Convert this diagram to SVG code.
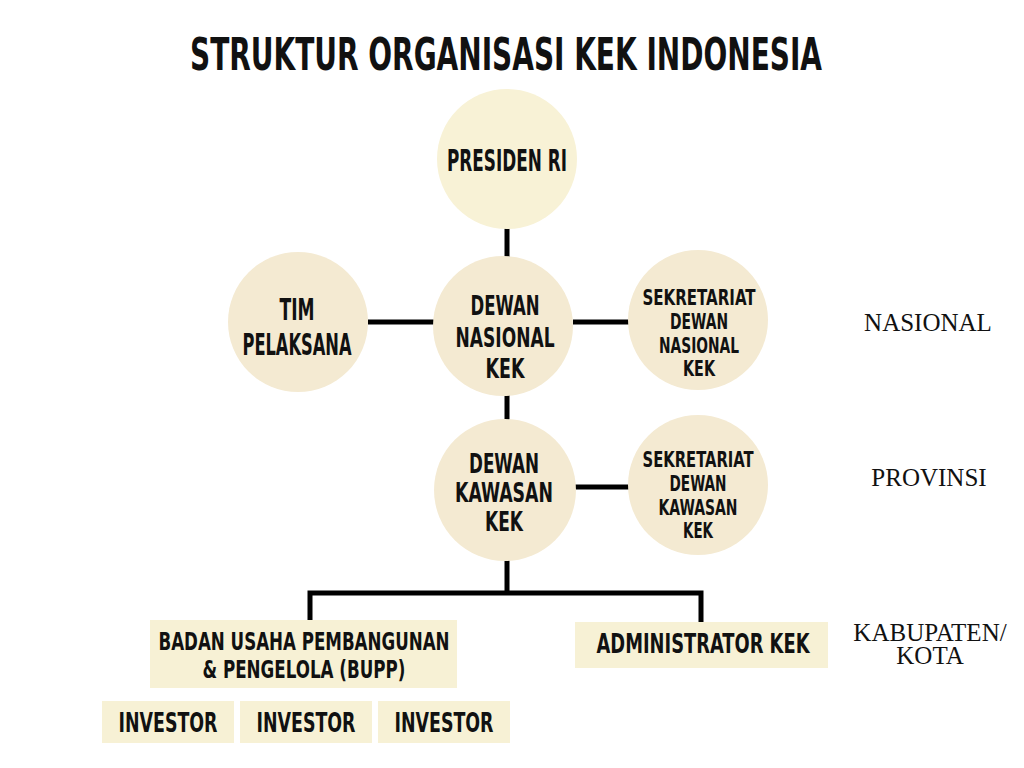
<svg xmlns="http://www.w3.org/2000/svg" width="1024" height="768" viewBox="0 0 1024 768">
<style>
.t{font-family:"Liberation Sans Narrow","DejaVu Sans Condensed","Liberation Sans",sans-serif;font-weight:bold;fill:#111;text-anchor:middle}
.lv{font-family:"Liberation Serif","Times New Roman",serif;font-size:25px;fill:#111;text-anchor:middle}
.c1{fill:#F8F2D6}
.c2{fill:#F4EAD2}
.bx{fill:#F7F1D5}
.ln{stroke:#000;stroke-width:5;fill:none}
</style>
<rect width="1024" height="768" fill="#fff"/>
<text class="t" x="506" y="70" font-size="45" textLength="632" lengthAdjust="spacingAndGlyphs">STRUKTUR ORGANISASI KEK INDONESIA</text>
<g id="connectors">
<line class="ln" x1="507" y1="228" x2="507" y2="258"/>
<line class="ln" x1="368" y1="322" x2="434" y2="322"/>
<line class="ln" x1="573" y1="322" x2="629" y2="322"/>
<line class="ln" x1="507" y1="395" x2="507" y2="421"/>
<line class="ln" x1="575" y1="487" x2="629" y2="487"/>
<line class="ln" x1="507" y1="559" x2="507" y2="593"/>
<polyline class="ln" points="310,621 310,593 701,593 701,623"/>
</g>
<g id="presiden">
<circle class="c1" cx="507" cy="159" r="70"/>
<text class="t" x="507" y="171" font-size="31" textLength="120" lengthAdjust="spacingAndGlyphs">PRESIDEN RI</text>
</g>
<g id="tim">
<circle class="c2" cx="298" cy="322" r="70"/>
<text class="t" x="297" y="320" font-size="30" textLength="35" lengthAdjust="spacingAndGlyphs">TIM</text>
<text class="t" x="297" y="355" font-size="30" textLength="109" lengthAdjust="spacingAndGlyphs">PELAKSANA</text>
</g>
<g id="dewan-nasional">
<circle class="c2" cx="503" cy="326" r="70"/>
<text class="t" x="505" y="315" font-size="27" textLength="69" lengthAdjust="spacingAndGlyphs">DEWAN</text>
<text class="t" x="505" y="347" font-size="27" textLength="99" lengthAdjust="spacingAndGlyphs">NASIONAL</text>
<text class="t" x="505" y="378" font-size="27" textLength="39" lengthAdjust="spacingAndGlyphs">KEK</text>
</g>
<g id="sekretariat-nasional">
<circle class="c2" cx="698" cy="320" r="70"/>
<text class="t" x="699" y="305" font-size="22" textLength="113" lengthAdjust="spacingAndGlyphs">SEKRETARIAT</text>
<text class="t" x="699" y="329" font-size="22" textLength="58" lengthAdjust="spacingAndGlyphs">DEWAN</text>
<text class="t" x="699" y="353" font-size="22" textLength="80" lengthAdjust="spacingAndGlyphs">NASIONAL</text>
<text class="t" x="699" y="376" font-size="22" textLength="32" lengthAdjust="spacingAndGlyphs">KEK</text>
</g>
<g id="dewan-kawasan">
<circle class="c2" cx="505" cy="490" r="71"/>
<text class="t" x="504" y="473" font-size="26" textLength="70" lengthAdjust="spacingAndGlyphs">DEWAN</text>
<text class="t" x="504" y="502" font-size="26" textLength="98" lengthAdjust="spacingAndGlyphs">KAWASAN</text>
<text class="t" x="504" y="531" font-size="26" textLength="38" lengthAdjust="spacingAndGlyphs">KEK</text>
</g>
<g id="sekretariat-kawasan">
<circle class="c2" cx="698" cy="485" r="70"/>
<text class="t" x="698" y="467" font-size="22" textLength="111" lengthAdjust="spacingAndGlyphs">SEKRETARIAT</text>
<text class="t" x="698" y="491" font-size="22" textLength="57" lengthAdjust="spacingAndGlyphs">DEWAN</text>
<text class="t" x="698" y="515" font-size="22" textLength="79" lengthAdjust="spacingAndGlyphs">KAWASAN</text>
<text class="t" x="698" y="538" font-size="22" textLength="30" lengthAdjust="spacingAndGlyphs">KEK</text>
</g>
<g id="bupp">
<rect class="bx" x="150" y="620" width="307" height="68"/>
<text class="t" x="304" y="650" font-size="24" textLength="291" lengthAdjust="spacingAndGlyphs">BADAN USAHA PEMBANGUNAN</text>
<text class="t" x="304" y="678" font-size="24" textLength="203" lengthAdjust="spacingAndGlyphs">&amp; PENGELOLA (BUPP)</text>
</g>
<g id="administrator">
<rect class="bx" x="575" y="622" width="253" height="46"/>
<text class="t" x="703" y="653" font-size="27" textLength="213" lengthAdjust="spacingAndGlyphs">ADMINISTRATOR KEK</text>
</g>
<g id="investor1">
<rect class="bx" x="102" y="701" width="132" height="42"/>
<text class="t" x="168" y="732" font-size="27" textLength="99" lengthAdjust="spacingAndGlyphs">INVESTOR</text>
</g>
<g id="investor2">
<rect class="bx" x="240" y="701" width="132" height="42"/>
<text class="t" x="306" y="732" font-size="27" textLength="99" lengthAdjust="spacingAndGlyphs">INVESTOR</text>
</g>
<g id="investor3">
<rect class="bx" x="378" y="701" width="132" height="42"/>
<text class="t" x="444" y="732" font-size="27" textLength="99" lengthAdjust="spacingAndGlyphs">INVESTOR</text>
</g>
<g id="levels">
<text class="lv" x="928" y="331">NASIONAL</text>
<text class="lv" x="929" y="486">PROVINSI</text>
<text class="lv" x="930" y="641">KABUPATEN/</text>
<text class="lv" x="930" y="664">KOTA</text>
</g>
</svg>
